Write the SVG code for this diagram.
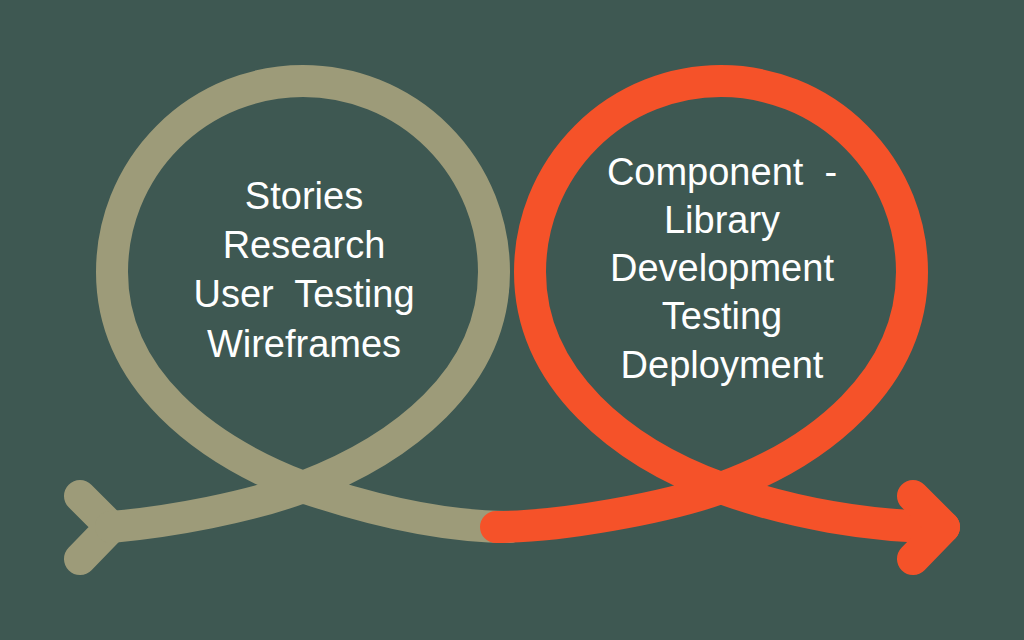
<svg xmlns="http://www.w3.org/2000/svg" width="1024" height="640" viewBox="0 0 1024 640">
  <style>
    .bg { fill: #3e5852; }
    .tan { fill: none; stroke: #9d9b79; stroke-width: 32; stroke-linecap: round; stroke-linejoin: round; }
    .org { fill: none; stroke: #f55229; stroke-width: 32; stroke-linecap: round; stroke-linejoin: round; }
    .lbl { font-family: "Liberation Sans", Arial, sans-serif; font-size: 38px; fill: #ffffff; text-anchor: middle; white-space: pre; }
  </style>
  <rect class="bg" x="0" y="0" width="1024" height="640"/>
  <g id="connectors">
    <g id="loop-design">
      <path class="tan" d="M80,496 L111,527 L80,559"/>
      <path class="tan" d="M111,527 C170,522 250,507 303,487 C400,450 494,380 494,272 A191,191 0 0 0 112,272 C112,380 206,450 303,487 C350,503 430,527 510,527"/>
    </g>
    <g id="loop-build">
      <path class="org" d="M496,527 C560,527 665,508 721,488 C818,453 912,380 912,272 A191,191 0 0 0 530,272 C530,380 624,453 721,488 C790,513 870,527 944,527"/>
      <path class="org" d="M913,496 L944,527 L913,559"/>
    </g>
  </g>
  <g id="node-design">
    <text class="lbl" x="304" y="209">Stories</text>
    <text class="lbl" x="304" y="258">Research</text>
    <text class="lbl" x="304" y="307">User  Testing</text>
    <text class="lbl" x="304" y="357">Wireframes</text>
  </g>
  <g id="node-build">
    <text class="lbl" x="722" y="185">Component  -</text>
    <text class="lbl" x="722" y="233">Library</text>
    <text class="lbl" x="722" y="281">Development</text>
    <text class="lbl" x="722" y="329">Testing</text>
    <text class="lbl" x="722" y="378">Deployment</text>
  </g>
</svg>
